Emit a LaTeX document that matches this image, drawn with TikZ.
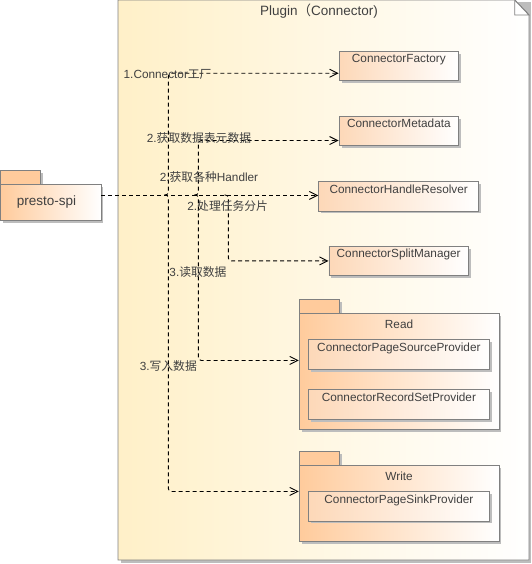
\documentclass[tikz,border=0pt]{standalone}
\usepackage{fontspec}
\setmainfont{Liberation Sans}
\newfontfamily\cjk{Noto Sans CJK SC}
\usetikzlibrary{arrows.meta,shadows}
\definecolor{txt}{HTML}{404040}
\definecolor{bord}{HTML}{808080}
\definecolor{shad}{HTML}{BDBDBD}
\definecolor{frameY}{HTML}{FFF0C8}
\definecolor{pkgP}{HTML}{FFCB9C}
\definecolor{clsP}{HTML}{FDD8B8}
\begin{document}
\begin{tikzpicture}[x=1pt,y=-1pt,
  font=\fontsize{11.8pt}{13pt}\selectfont, text=txt,
  myshadow/.style={drop shadow={shadow xshift=2.5pt,shadow yshift=-2.5pt,fill=shad,opacity=1}},
  cls/.style={draw=bord, line width=0.9pt, left color=clsP, right color=white, inner sep=0pt,
     text height=11.8pt, text depth=17.7pt, myshadow},
  pkgtab/.style={draw=bord, line width=0.9pt, fill=pkgP, inner sep=0pt, minimum width=39.9pt, minimum height=14.3pt, anchor=north west, myshadow},
  pkg/.style={draw=bord, line width=0.9pt, left color=pkgP, right color=white, inner sep=0pt, text height=15pt, minimum width=199.8pt, anchor=north west, myshadow},
  dep/.style={draw=black, line width=0.9pt, dash pattern=on 4pt off 3pt, rounded corners=3pt, -{Straight Barb[length=8pt,width=8pt]}},
  lbl/.style={anchor=base, inner sep=0pt}]
\useasboundingbox (0,0) rectangle (531,564);
% frame
\fill[shad] (120.5,2.5) -- (531,2.5) -- (531,562.5) -- (120.5,562.5) -- cycle;
\path[draw=bord, line width=0.9pt, left color=frameY, right color=white]
  (118,0) -- (514.7,0) -- (529,15) -- (529,560) -- (118,560) -- cycle;
\draw[bord, line width=0.9pt, fill=white] (514.7,0) -- (514.7,15) -- (529,15) -- cycle;
\node[lbl, font=\fontsize{13.5pt}{15pt}\selectfont] (title) at (319,16) {Plugin{\cjk （}Connector)};
% presto-spi
\node[pkgtab] (spitab) at (0,170) {};
\node[draw=bord, line width=0.9pt, left color=pkgP, right color=white, inner sep=0pt,
  minimum width=100.5pt, minimum height=36pt, anchor=north west, myshadow] (spi) at (0,184) {};
\node[lbl, font=\fontsize{13.5pt}{15pt}\selectfont] (spit) at (46.5,205) {presto-spi};
% classes
\node[cls, minimum width=119.6pt, anchor=north west] (fac) at (338.6,50.7) {ConnectorFactory};
\node[cls, minimum width=119.6pt, anchor=north west] (meta) at (338.6,115.7) {ConnectorMetadata};
\node[cls, minimum width=159.9pt, anchor=north west] (hr) at (318.3,181) {ConnectorHandleResolver};
\node[cls, minimum width=139.5pt, anchor=north west] (split) at (328.5,245.7) {ConnectorSplitManager};
% Read package
\node[pkgtab] (readtab) at (298.7,299) {};
\node[pkg, text depth=101pt] (read) at (298.7,313.3) {Read};
\node[cls, minimum width=180.5pt, anchor=north west] (psrc) at (308.2,339.3) {ConnectorPageSourceProvider};
\node[cls, minimum width=180.5pt, anchor=north west] (rset) at (308.2,389.3) {ConnectorRecordSetProvider};
% Write package
\node[pkgtab] (writetab) at (298.7,451) {};
\node[pkg, text depth=61pt] (write) at (298.7,465.3) {Write};
\node[cls, minimum width=180.5pt, anchor=north west] (psink) at (308.2,491) {ConnectorPageSinkProvider};
% connectors
\coordinate (o) at ([yshift=7pt]spi.east);
\coordinate (j1) at (168.3,195);
\coordinate (j2) at (198.3,195);
\coordinate (j3) at (228.3,195);
\coordinate (b1) at (164.3,195);
\coordinate (b2) at (194.3,195);
\coordinate (b3) at (224.3,195);
\draw[dep] (o) -- (o -| hr.west);
\draw[dep] (b1) -- (j1) |- ([yshift=-7.35pt]fac.west);
\draw[dep] (b2) -- (j2) |- ([yshift=-9.65pt]meta.west);
\draw[dep] (b3) -- (j3) |- (split.west);
\draw[dep] (b2) -- (j2) |- ([yshift=11.3pt]read.west);
\draw[dep] (b1) -- (j1) |- ([yshift=12.3pt]write.west);
% labels
\node[lbl] (l1) at (167.6,78.7) {1.Connector{\cjk 工厂}};
\node[lbl] (l2) at (199,142.5) {2.{\cjk 获取数据表元数据}};
\node[lbl] (l3) at (209,181.7) {2.{\cjk 获取各种}Handler};
\node[lbl] (l4) at (227.7,210.7) {2.{\cjk 处理任务分片}};
\node[lbl] (l5) at (198,276) {3.{\cjk 读取数据}};
\node[lbl] (l6) at (168.3,370.7) {3.{\cjk 写入数据}};
\end{tikzpicture}
\end{document}
